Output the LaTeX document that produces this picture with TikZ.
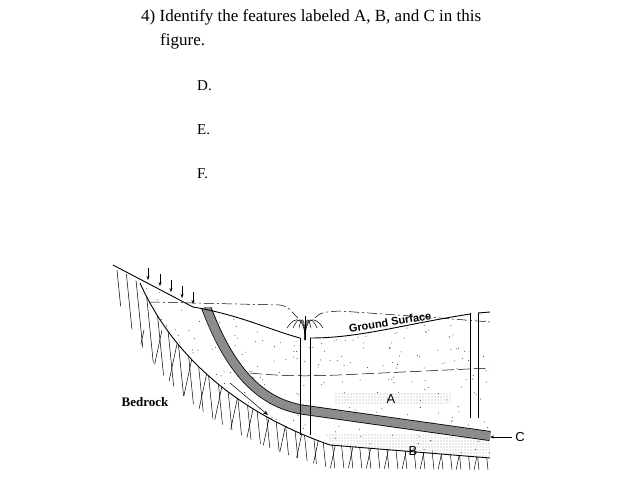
\documentclass[tikz,border=0pt]{standalone}
\usepackage{fontspec}
\setmainfont{Liberation Serif}
\newfontfamily\sansf{Liberation Sans}
\usetikzlibrary{patterns,arrows.meta}
\begin{document}
\begin{tikzpicture}[x=1pt,y=-1pt,
  lbl/.style={font=\fontsize{15}{17}\selectfont,anchor=west,inner sep=0},
  ln/.style={line width=0.9pt},
  thin/.style={line width=0.5pt}]
\useasboundingbox (0,0) rectangle (640,483);
% texts
\node[lbl,anchor=north west] (q1) at (141,9) {\fontsize{17}{20}\selectfont 4) Identify the features labeled A, B, and C in this};
\node[lbl,anchor=north west] (q2) at (160,33) {\fontsize{17}{20}\selectfont figure.};
\node[lbl] (d) at (197,86) {D.};
\node[lbl] (e) at (197,130) {E.};
\node[lbl] (f) at (197,174) {F.};
% stipple clip region
\begin{scope}
\clip (140,283) .. controls (170,350) and (230,410) .. (330,445) -- (490,458) -- (490,313) -- (440,318) .. controls (380,328) and (340,338) .. (300,338) .. controls (260,330) and (220,310) .. (193,307) -- cycle;
\pgfmathsetseed{7}
\foreach \i in {1,...,450}{
  \pgfmathsetmacro{\xx}{140+350*rnd}\pgfmathsetmacro{\yy}{280+180*rnd}
  \fill[black!80] (\xx,\yy) circle (0.5);}
\end{scope}
% dense stipple A and B
\begin{scope}
\clip (335,393) rectangle (450,405);
\foreach \xx in {336,339,...,450}{\foreach \yy in {394,397,...,405}{\fill (\xx,\yy) circle (0.45);}}
\end{scope}
\begin{scope}
\clip (330,445) -- (490,458) -- (490,440) .. controls (430,435) and (380,428) .. (320,418) -- cycle;
\foreach \xx in {300,303,...,490}{\foreach \yy in {435,438,...,460}{\fill (\xx,\yy) circle (0.45);}}
\end{scope}
% bedrock hatching strip
\begin{scope}
\clip (113,265) -- (140,283) .. controls (170,350) and (230,410) .. (330,445) -- (490,458) -- (490,470) -- (330,468) .. controls (230,440) and (160,400) .. (118,300) -- cycle;
\foreach \k in {0,9,...,420}{\draw[thin] (90+\k,270) -- (90+\k+20,470);}
\foreach \k in {0,18,...,420}{\draw[thin] (90+\k,330) -- (90+\k-30,470);}
\end{scope}
\draw[ln] (140,283) .. controls (170,350) and (230,410) .. (330,445) -- (490,458);
% aquitard C
\draw[line width=10pt] (206,307) .. controls (226,360) and (254,403) .. (305,410) -- (490,436);
\draw[line width=8.4pt,black!45] (206,307.3) .. controls (226,360) and (254,403) .. (305,410) -- (490,436);
\fill[white] (200,300) rectangle (215,307);
% water table lines
\draw[thin,dash pattern=on 10pt off 3pt on 2pt off 3pt] (150,302) -- (280,305) .. controls (292,307) and (293,315) .. (298,318);
\draw[thin,dash pattern=on 10pt off 3pt on 2pt off 3pt] (315,318) .. controls (320,312) and (325,312) .. (340,311) -- (440,318) -- (490,322);
\draw[thin,dash pattern=on 12pt off 4pt] (250,373) .. controls (290,377) and (320,376) .. (360,374) -- (490,368);
% ground surface
\draw[ln] (113,265) -- (193,307) .. controls (240,315) and (270,330) .. (300,338);
\draw[ln] (310,338) .. controls (360,338) and (400,325) .. (470,314);
\draw[ln] (478,313) -- (490,312);
\node[font=\sansf\bfseries\fontsize{11}{13}\selectfont,rotate=9,inner sep=0] (gs) at (390,322) {Ground Surface};
% recharge arrows
\foreach \xx/\yy in {148/268,160/274,171/280,182/286,193/292}{\draw[thin,-{Stealth[length=4pt]}] (\xx,\yy) -- (\xx,\yy+12);}
% wells
\draw[thin] (300,338) -- (300,435) (310,338) -- (310,435);
\draw[thin] (470,313) -- (470,418) (478,313) -- (478,418);
% fountain
\foreach \a in {-60,-40,-20,20,40,60}{\draw[thin] (305,340) .. controls (305,318) and (305+\a*0.15,314) .. (305+\a*0.3,328);}
\draw[thin] (305,340) -- (305,316);
% flow arrow
\draw[thin,-{Stealth[length=5pt]}] (230,383) -- (268,415);
% labels
\node[font=\bfseries\fontsize{13}{15}\selectfont,inner sep=0] (br) at (145,402) {Bedrock};
\node[font=\sansf\fontsize{13}{15}\selectfont,inner sep=0] (A) at (391,399) {A};
\node[font=\sansf\fontsize{13}{15}\selectfont,inner sep=0] (B) at (413,451) {B};
\node[font=\sansf\fontsize{13}{15}\selectfont,inner sep=0] (C) at (520,437) {C};
\coordinate (ct) at (490,437);
\draw[thin,-{Stealth[length=4pt]}] (C.west) ++(-3,0) -- (ct);
\end{tikzpicture}
\end{document}
